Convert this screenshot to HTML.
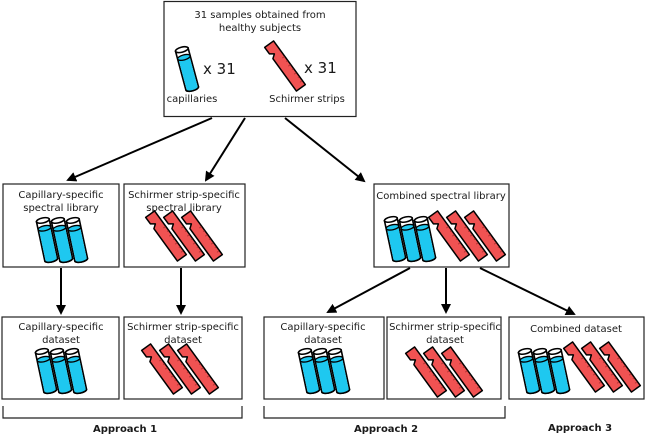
<!DOCTYPE html>
<html><head><meta charset="utf-8"><style>
html,body{margin:0;padding:0;background:#fff;}
svg{display:block;}
text{font-family:"DejaVu Sans","Liberation Sans",sans-serif;fill:#1a1a1a;}
.s{font-size:10px;}
</style></head><body>
<svg width="648" height="435" viewBox="0 0 648 435" xmlns="http://www.w3.org/2000/svg">
<defs>
<marker id="ah" markerWidth="10" markerHeight="10" refX="8" refY="5" orient="auto" markerUnits="userSpaceOnUse">
<path d="M0,0 L10,5 L0,10 Z" fill="#000"/>
</marker>
<g id="t">
<path d="M-6.5,-20 L-6.5,20 A6.5,2.5 0 0 0 6.5,20 L6.5,-20 Z" fill="#fff" stroke="#000" stroke-width="1.6"/>
<path d="M-5.7,-12 L-5.7,20 A5.7,2 0 0 0 5.7,20 L5.7,-12 Z" fill="#1ec8f0"/>
<ellipse cx="0" cy="-12" rx="6.5" ry="2.5" fill="#1ec8f0" stroke="#000" stroke-width="1.3"/>
<ellipse cx="0" cy="-20" rx="6.5" ry="2.5" fill="#fff" stroke="#000" stroke-width="1.6"/>
<path d="M-6.5,20 A6.5,2.5 0 0 0 6.5,20" fill="none" stroke="#000" stroke-width="1.6"/>
</g>
<g id="s">
<polygon points="-5.5,-27 5.5,-27 5.5,27 -5.5,27 -5.5,-13 -1.5,-16 -5.5,-19" fill="#f05252" stroke="#000" stroke-width="1.5" stroke-linejoin="round"/>
<path d="M5,-8 h-2.5 M5,-3 h-1.5 M5,2 h-2.5 M5,7 h-1.5 M5,12 h-2.5 M5,17 h-1.5 M5,22 h-2.5" stroke="#a83030" stroke-width="0.8"/>
</g>
<g id="tt"><use href="#t" transform="translate(-15,0) rotate(-12)"/><use href="#t" transform="rotate(-12)"/><use href="#t" transform="translate(15,0) rotate(-12)"/></g>
<g id="ss"><use href="#s" transform="translate(-18,0) rotate(-36)"/><use href="#s" transform="rotate(-36)"/><use href="#s" transform="translate(18,0) rotate(-36)"/></g>
</defs>

<g fill="none" stroke="#222" stroke-width="1.2">
<rect x="164" y="1.5" width="192" height="115"/>
<rect x="3" y="184" width="116" height="83"/>
<rect x="124" y="184" width="121" height="83"/>
<rect x="374" y="184" width="135" height="83"/>
<rect x="2" y="317" width="117" height="82"/>
<rect x="124" y="317" width="118" height="82"/>
<rect x="264" y="317" width="120" height="82"/>
<rect x="387" y="317" width="114" height="82"/>
<rect x="509" y="317" width="135" height="82"/>
<path d="M3,406 V418 H242 V406"/>
<path d="M264,406 V418 H505 V406"/>
</g>

<g stroke="#000" stroke-width="2" marker-end="url(#ah)">
<line x1="212" y1="118" x2="68" y2="180"/>
<line x1="245" y1="118" x2="206" y2="180"/>
<line x1="285" y1="118" x2="364" y2="181"/>
<line x1="61" y1="268" x2="61" y2="313"/>
<line x1="181" y1="268" x2="181" y2="313"/>
<line x1="410" y1="268" x2="328" y2="312"/>
<line x1="446" y1="268" x2="446" y2="312"/>
<line x1="480" y1="268" x2="574" y2="314"/>
</g>

<g class="s" text-anchor="middle">
<text x="260" y="18">31 samples obtained from</text>
<text x="260" y="31">healthy subjects</text>
<text x="192" y="102">capillaries</text>
<text x="307" y="102">Schirmer strips</text>
<text x="61" y="198">Capillary-specific</text>
<text x="61" y="211">spectral library</text>
<text x="184" y="198">Schirmer strip-specific</text>
<text x="184" y="211">spectral library</text>
<text x="441" y="199">Combined spectral library</text>
<text x="61" y="330">Capillary-specific</text>
<text x="61" y="343">dataset</text>
<text x="183" y="330">Schirmer strip-specific</text>
<text x="183" y="343">dataset</text>
<text x="323" y="330">Capillary-specific</text>
<text x="323" y="343">dataset</text>
<text x="445" y="330">Schirmer strip-specific</text>
<text x="445" y="343">dataset</text>
<text x="576" y="332">Combined dataset</text>
</g>
<g font-size="15" text-anchor="start">
<text x="203" y="74">x 31</text>
<text x="304" y="73">x 31</text>
</g>
<g font-size="10" font-weight="bold" text-anchor="middle">
<text x="125" y="432">Approach 1</text>
<text x="386" y="432">Approach 2</text>
<text x="580" y="431">Approach 3</text>
</g>

<use href="#t" transform="translate(187,69) rotate(-15)"/>
<use href="#s" transform="translate(285,66) rotate(-36)"/>

<use href="#tt" transform="translate(62,240)"/>
<use href="#ss" transform="translate(184,236)"/>
<use href="#tt" transform="translate(410,239)"/>
<use href="#ss" transform="translate(467,236)"/>

<use href="#tt" transform="translate(61,371)"/>
<use href="#ss" transform="translate(180,369)"/>
<use href="#tt" transform="translate(324,371)"/>
<use href="#ss" transform="translate(444,372)"/>
<use href="#tt" transform="translate(544,371)"/>
<use href="#ss" transform="translate(602,367)"/>
</svg>
</body></html>
